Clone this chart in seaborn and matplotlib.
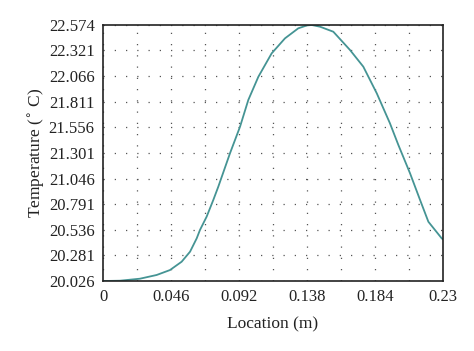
import numpy as np
import pandas as pd
import matplotlib
matplotlib.use("Agg")
import matplotlib.pyplot as plt
import seaborn as sns

# values
location = [0.0, 0.0115, 0.025, 0.0363, 0.0453, 0.0532, 0.0589, 0.0634,
            0.0656, 0.0701, 0.0746, 0.078, 0.0859, 0.0927, 0.0983, 0.1051,
            0.1141, 0.1231, 0.1321, 0.1380, 0.1412, 0.1468, 0.1558, 0.1671,
            0.1761, 0.1852, 0.1941, 0.1998, 0.2077, 0.2145, 0.2201, 0.2291,
            0.2300]
temperature = [20.026, 20.029, 20.049, 20.086, 20.135, 20.218, 20.318, 20.451,
               20.534, 20.666, 20.832, 20.965, 21.297, 21.562, 21.828, 22.059,
               22.292, 22.441, 22.541, 22.570, 22.574, 22.557, 22.507, 22.325,
               22.159, 21.894, 21.596, 21.380, 21.098, 20.832, 20.616, 20.451,
               20.440]
x_ticks = [0, 0.046, 0.092, 0.138, 0.184, 0.23]
x_tick_labels = ["0", "0.046", "0.092", "0.138", "0.184", "0.23"]
y_ticks = [20.026, 20.281, 20.536, 20.791, 21.046, 21.301, 21.556, 21.811,
           22.066, 22.321, 22.574]

df = pd.DataFrame({"Location": location, "Temperature": temperature})

sns.set_style("white")
plt.rcParams["font.family"] = ["Liberation Serif", "DejaVu Serif"]

fig = plt.figure(figsize=(4.74, 3.51), dpi=100)
ax = fig.add_axes([0.2173, 0.1994, 0.7173, 0.7294])

sns.lineplot(data=df, x="Location", y="Temperature", color="#459494",
             linewidth=1.3, ax=ax)

ax.set_xlim(0, 0.23)
ax.set_ylim(20.026, 22.574)
ax.set_xticks(x_ticks)
ax.set_xticklabels(x_tick_labels)
ax.set_xticks(np.arange(0.023, 0.23, 0.046), minor=True)
ax.set_yticks(y_ticks)
ax.set_yticklabels([f"{v:.3f}" for v in y_ticks])
ax.tick_params(axis="both", which="both", length=0, labelsize=12,
               colors="#222222", pad=6)

ax.grid(True, which="both", color="#555555", linewidth=0.9,
        linestyle=(0, (1, 8)))
for s in ax.spines.values():
    s.set_color("#222222")
    s.set_linewidth(1.2)

ax.set_xlabel("Location (m)", fontsize=12.5, color="#222222", labelpad=8)
ax.set_ylabel("Temperature ($^{\\circ}$ C)", fontsize=12.5, color="#222222",
              labelpad=1)

fig.savefig("out.png", dpi=100)
